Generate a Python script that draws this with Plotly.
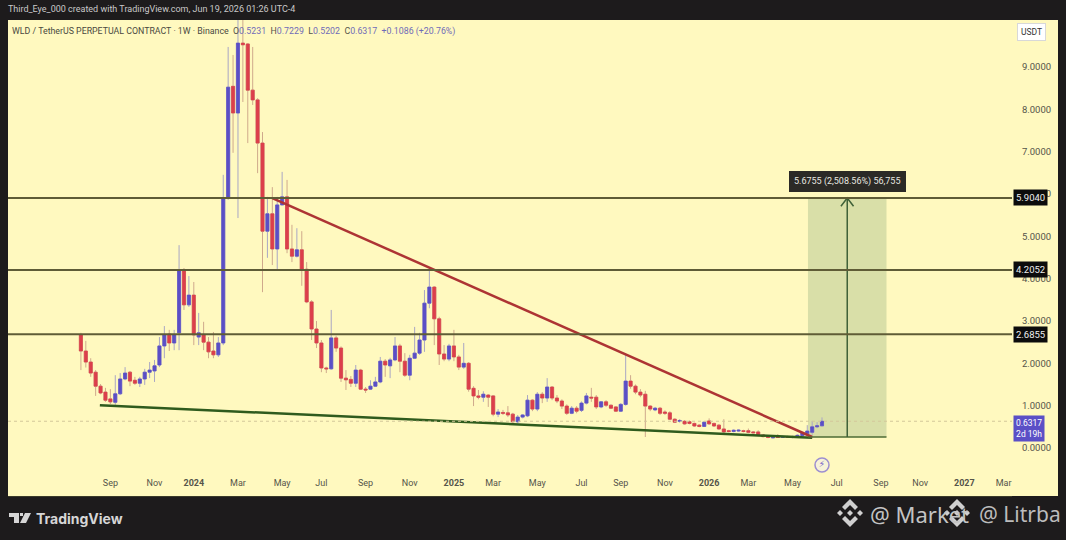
import pandas as pd
import plotly.graph_objects as go

# ============================ data ============================
first_week = "2023-07-24"

opens = [2.67, 2.29, 2.03, 1.79, 1.46, 1.32, 1.16, 1.08, 1.28, 1.63,
         1.79, 1.60, 1.53, 1.63, 1.79, 1.82, 1.96, 2.41, 2.69, 2.48,
         2.72, 4.20, 3.38, 3.61, 2.62, 2.67, 2.50, 2.29, 2.20, 2.48,
         5.90, 8.54, 7.91, 9.56, 9.54, 8.45, 8.22, 7.20, 5.12, 5.53,
         4.70, 5.74, 5.93, 4.70, 4.53, 4.68, 4.22, 3.45, 2.81, 2.48,
         1.89, 1.87, 2.60, 2.36, 1.65, 1.62, 1.53, 1.84, 1.39, 1.39,
         1.46, 1.56, 2.05, 1.94, 2.08, 2.41, 2.05, 1.72, 2.12, 2.24,
         2.55, 3.42, 3.80, 3.05, 2.22, 2.10, 2.41, 2.15, 1.91, 2.00,
         1.41, 1.23, 1.20, 1.25, 1.23, 0.80, 0.84, 0.83, 0.80, 0.62,
         0.73, 0.76, 1.13, 0.92, 1.27, 1.18, 1.44, 1.18, 1.11, 0.99,
         0.82, 0.94, 0.89, 1.06, 1.20, 1.20, 0.97, 1.09, 1.01, 0.97,
         0.87, 1.03, 1.58, 1.46, 1.32, 1.27, 0.99, 0.90, 0.94, 0.85,
         0.83, 0.68, 0.63, 0.63, 0.62, 0.58, 0.54, 0.51, 0.64, 0.58,
         0.54, 0.45, 0.41, 0.39, 0.40, 0.41, 0.41, 0.38, 0.38, 0.31,
         0.28, 0.24, 0.27, 0.25, 0.27, 0.25, 0.26, 0.29, 0.34, 0.37,
         0.50, 0.5231]
highs = [2.72, 2.53, 2.12, 1.84, 1.51, 1.42, 1.39, 1.72, 1.77, 1.91,
         1.82, 1.68, 1.68, 1.87, 2.03, 2.08, 2.62, 2.88, 2.79, 2.79,
         4.79, 4.25, 4.06, 3.92, 3.19, 2.98, 2.62, 2.74, 2.62, 6.45,
         9.47, 9.28, 10.30, 10.30, 9.56, 9.47, 8.26, 7.46, 5.93, 6.16,
         5.93, 6.52, 6.33, 5.27, 5.19, 5.12, 4.39, 3.49, 3.00, 2.55,
         1.92, 3.26, 2.65, 2.40, 1.84, 1.70, 1.96, 1.87, 1.44, 1.60,
         1.68, 2.15, 2.10, 2.13, 2.62, 2.46, 2.24, 2.20, 2.86, 2.72,
         3.73, 4.20, 3.82, 3.10, 2.43, 2.46, 2.79, 2.20, 2.48, 2.03,
         1.46, 1.37, 1.34, 1.27, 1.25, 0.92, 0.90, 0.99, 0.83, 0.78,
         0.80, 1.25, 1.15, 1.32, 1.32, 1.65, 1.46, 1.25, 1.15, 1.03,
         0.99, 0.99, 1.10, 1.30, 1.42, 1.25, 1.11, 1.13, 1.03, 0.99,
         1.06, 2.20, 1.72, 1.50, 1.39, 1.35, 1.01, 0.97, 0.97, 0.89,
         0.87, 0.70, 0.68, 0.66, 0.65, 0.60, 0.56, 0.63, 0.70, 0.60,
         0.56, 0.68, 0.43, 0.44, 0.44, 0.43, 0.46, 0.40, 0.42, 0.33,
         0.30, 0.29, 0.33, 0.29, 0.29, 0.29, 0.32, 0.38, 0.54, 0.64,
         0.61, 0.7229]
lows = [1.84, 1.90, 1.68, 1.23, 1.27, 1.09, 1.04, 1.02, 1.25, 1.60,
        1.46, 1.49, 1.44, 1.49, 1.65, 1.56, 1.91, 2.12, 2.29, 2.31,
        2.31, 3.26, 3.33, 2.43, 2.43, 2.31, 2.12, 2.12, 2.15, 2.43,
        5.86, 6.97, 5.43, 8.17, 7.20, 8.10, 6.49, 3.68, 4.49, 4.32,
        4.20, 5.74, 4.60, 4.39, 4.50, 3.83, 3.42, 2.55, 2.36, 1.79,
        1.77, 1.85, 2.27, 1.56, 1.37, 1.44, 1.44, 1.37, 1.30, 1.37,
        1.44, 1.53, 1.68, 1.65, 2.05, 1.79, 1.68, 1.60, 2.10, 2.20,
        2.27, 3.30, 2.43, 1.96, 2.05, 2.05, 2.05, 1.84, 1.87, 1.33,
        0.99, 1.15, 1.09, 0.97, 0.75, 0.73, 0.78, 0.73, 0.60, 0.58,
        0.70, 0.73, 0.87, 0.87, 1.06, 1.09, 1.13, 1.06, 0.92, 0.78,
        0.80, 0.82, 0.85, 1.03, 1.09, 0.92, 0.94, 0.97, 0.92, 0.85,
        0.85, 1.00, 1.40, 1.27, 1.20, 0.26, 0.87, 0.87, 0.78, 0.78,
        0.66, 0.59, 0.60, 0.55, 0.56, 0.50, 0.49, 0.50, 0.55, 0.50,
        0.43, 0.34, 0.37, 0.37, 0.38, 0.37, 0.35, 0.35, 0.28, 0.25,
        0.23, 0.23, 0.24, 0.24, 0.24, 0.23, 0.24, 0.27, 0.31, 0.31,
        0.47, 0.5202]
closes = [2.29, 2.03, 1.77, 1.46, 1.30, 1.13, 1.09, 1.28, 1.63, 1.77,
          1.58, 1.53, 1.63, 1.79, 1.84, 1.94, 2.41, 2.67, 2.48, 2.67,
          4.20, 3.38, 3.61, 2.67, 2.72, 2.50, 2.27, 2.20, 2.48, 5.90,
          8.52, 7.91, 9.56, 9.52, 8.45, 8.22, 7.20, 5.12, 5.53, 4.70,
          5.74, 5.93, 4.70, 4.53, 4.68, 4.22, 3.45, 2.81, 2.48, 1.89,
          1.87, 2.60, 2.36, 1.65, 1.61, 1.53, 1.84, 1.39, 1.37, 1.46,
          1.56, 2.05, 1.96, 2.08, 2.41, 2.05, 1.72, 2.12, 2.24, 2.55,
          3.42, 3.80, 3.05, 2.22, 2.10, 2.41, 2.15, 1.91, 2.00, 1.39,
          1.23, 1.20, 1.27, 1.20, 0.80, 0.85, 0.82, 0.78, 0.62, 0.73,
          0.78, 1.13, 0.92, 1.27, 1.18, 1.44, 1.18, 1.11, 0.99, 0.82,
          0.94, 0.87, 1.06, 1.23, 1.18, 0.97, 1.09, 1.01, 0.94, 0.87,
          1.03, 1.58, 1.46, 1.32, 1.25, 0.99, 0.92, 0.94, 0.82, 0.82,
          0.68, 0.61, 0.65, 0.57, 0.58, 0.52, 0.51, 0.61, 0.57, 0.52,
          0.45, 0.38, 0.39, 0.42, 0.42, 0.39, 0.37, 0.36, 0.30, 0.27,
          0.25, 0.27, 0.25, 0.27, 0.25, 0.27, 0.30, 0.36, 0.40, 0.50,
          0.5231, 0.6317]

tick_dates = ["2023-09-04", "2023-11-06", "2024-01-01", "2024-03-04", "2024-05-06", "2024-07-01",
              "2024-09-02", "2024-11-04", "2025-01-06", "2025-03-03", "2025-05-05", "2025-07-07",
              "2025-09-01", "2025-11-03", "2026-01-05", "2026-03-02", "2026-05-04", "2026-07-06",
              "2026-09-07", "2026-11-02", "2027-01-04", "2027-03-01"]
tick_labels = ["Sep", "Nov", "<b>2024</b>", "Mar", "May", "Jul", "Sep", "Nov", "<b>2025</b>", "Mar", "May",
               "Jul", "Sep", "Nov", "<b>2026</b>", "Mar", "May", "Jul", "Sep", "Nov", "<b>2027</b>", "Mar"]
price_ticks = [0, 1, 2, 3, 4, 5, 6, 7, 8, 9]

levels = [5.9040, 4.2052, 2.6855]
last_price = 0.6317

red_line_x = ["2024-04-22", "2026-06-01"]
red_line_y = [5.90, 0.26]
green_line_x = ["2023-08-20", "2026-06-01"]
green_line_y = [1.01, 0.24]

target_start = "2026-05-26"
target_mid = "2026-07-21"
target_end = "2026-09-15"
target_low = 0.26
target_high = 5.904
chevron_x = ["2026-07-12", "2026-07-21", "2026-07-30"]
chevron_y = [5.71, 5.904, 5.71]

# ============================ colours ============================
BG = "#1d1b1c"
YELLOW = "#fff9bf"
BLUE = "#5b4fc6"
RED = "#dc3f4b"
BLUE_WICK = "#a9a6c4"
RED_WICK = "#cfa98c"
LEVEL = "#5f5c36"
TEXT = "#55544a"

dates = pd.date_range(first_week, periods=len(opens), freq="7D")
body_top = [max(o, c) for o, c in zip(opens, closes)]
body_low = [min(o, c) for o, c in zip(opens, closes)]

fig = go.Figure()

# wicks first, then the bodies on top so the two can have different colours
fig.add_trace(go.Candlestick(
    x=dates, open=opens, high=highs, low=lows, close=closes,
    increasing=dict(line=dict(color=BLUE_WICK, width=1), fillcolor=BLUE_WICK),
    decreasing=dict(line=dict(color=RED_WICK, width=1), fillcolor=RED_WICK),
    whiskerwidth=0, hoverinfo="skip",
))
fig.add_trace(go.Candlestick(
    x=dates, open=opens, high=body_top, low=body_low, close=closes,
    increasing=dict(line=dict(color=BLUE, width=0.6), fillcolor=BLUE),
    decreasing=dict(line=dict(color=RED, width=0.6), fillcolor=RED),
    whiskerwidth=0, hoverinfo="skip",
))

# trend lines
fig.add_trace(go.Scatter(x=green_line_x, y=green_line_y, mode="lines",
                         line=dict(color="#2f5b1d", width=2.5), hoverinfo="skip"))
fig.add_trace(go.Scatter(x=red_line_x, y=red_line_y, mode="lines",
                         line=dict(color="#ad3434", width=2.5), hoverinfo="skip"))

# long position tool
fig.add_shape(type="rect", x0=target_start, x1=target_end, y0=target_low, y1=target_high,
              fillcolor="#d9dfa8", line_width=0, layer="below")
fig.add_shape(type="line", x0=target_start, x1=target_end, y0=target_low, y1=target_low,
              line=dict(color="#4d6b35", width=1.5))
fig.add_shape(type="line", x0=target_mid, x1=target_mid, y0=target_low, y1=target_high,
              line=dict(color="#3f6138", width=1.5))
fig.add_trace(go.Scatter(x=chevron_x, y=chevron_y, mode="lines",
                         line=dict(color="#3f6138", width=1.5), hoverinfo="skip"))

# horizontal levels + last price
for lvl in levels:
    fig.add_shape(type="line", xref="paper", x0=0, x1=1, y0=lvl, y1=lvl,
                  line=dict(color=LEVEL, width=2))
    fig.add_annotation(xref="paper", x=1.001, y=lvl, xanchor="left", text=f"{lvl:.4f}", showarrow=False,
                       bgcolor="#0c0c0c", font=dict(family="Roboto", size=9.5, color="#eeeeee"),
                       borderpad=2)
fig.add_shape(type="line", xref="paper", x0=0, x1=1, y0=last_price, y1=last_price,
              line=dict(color="#d3c79a", width=1, dash="dot"))

# lightning marker under the last candle
fig.add_trace(go.Scatter(x=[dates[-1]], y=[-0.4], mode="markers+text", text=["⚡"],
                         textposition="middle center", textfont=dict(family="DejaVu Sans", size=9, color="#6a55c8"),
                         marker=dict(size=14, color="#f7f3d8", line=dict(color="#9d8fd0", width=1.5)),
                         hoverinfo="skip"))

# price scale strip is yellow too
fig.add_shape(type="rect", xref="paper", yref="paper", x0=1, x1=1050 / 1004, y0=0, y1=1,
              fillcolor=YELLOW, line_width=0, layer="below")

fig.add_annotation(xref="paper", x=1.001, y=last_price, yanchor="top", yshift=6, xanchor="left", align="center",
                   text="%.4f<br>2d 19h" % last_price, showarrow=False, bgcolor=BLUE,
                   font=dict(family="Roboto", size=8.5, color="#ffffff"), borderpad=2)
fig.add_annotation(xref="paper", yref="paper", x=1.005, y=(496 - 32) / 476, xanchor="left", yanchor="middle",
                   text="USDT", showarrow=False, bgcolor="#ffffff", bordercolor="#d8d8d8", borderwidth=1,
                   borderpad=3, font=dict(family="Roboto", size=8.5, color="#333333"))
fig.add_annotation(x=target_mid, y=6.3, text="5.6755 (2,508.56%) 56,755", showarrow=False, bgcolor="#2b2a26",
                   bordercolor="#2b2a26", borderpad=4, font=dict(family="Roboto", size=9, color="#e8e8e0"))

# header texts
vals = "#6f6bb8"
ohlc = (f'<span style="color:{TEXT}">O</span><span style="color:{vals}">{opens[-1]:.4f}</span>  '
        f'<span style="color:{TEXT}">H</span><span style="color:{vals}">{highs[-1]:.4f}</span>  '
        f'<span style="color:{TEXT}">L</span><span style="color:{vals}">{lows[-1]:.4f}</span>  '
        f'<span style="color:{TEXT}">C</span><span style="color:{vals}">{closes[-1]:.4f}</span>  '
        f'<span style="color:{vals}">+0.1086 (+20.76%)</span>')
fig.add_annotation(xref="paper", yref="paper", x=2 / 1004, y=(496 - 31) / 476, xanchor="left", yanchor="middle",
                   showarrow=False, text=f"WLD / TetherUS PERPETUAL CONTRACT · 1W · Binance  {ohlc}",
                   font=dict(family="Roboto", size=8.8, color="#4a493f"))
fig.add_annotation(xref="paper", yref="paper", x=-2 / 1004, y=(496 - 9) / 476, xanchor="left", yanchor="middle",
                   showarrow=False, text="Third_Eye_000 created with TradingView.com, Jun 19, 2026 01:26 UTC-4",
                   font=dict(family="Roboto", size=9, color="#c9c9c9"))
fig.add_annotation(xref="paper", yref="paper", x=26 / 1004, y=(496 - 518) / 476, xanchor="left", yanchor="middle",
                   showarrow=False, text="<b>TradingView</b>", font=dict(family="Inter", size=14, color="#d6d6d6"))


# ============================ logos in page pixels ============================
def logo_path(points, cx=0, cy=0):
    parts = []
    for i, (px, py) in enumerate(points):
        xp = (cx + px - 8) / 1004
        yp = (496 - cy - py) / 476
        parts.append(("M" if i == 0 else "L") + f"{xp:.5f},{yp:.5f}")
    return " ".join(parts) + " Z"


def add_logo_part(points, color, cx=0, cy=0):
    fig.add_shape(type="path", xref="paper", yref="paper", path=logo_path(points, cx, cy),
                  fillcolor=color, line_width=0)


# TradingView mark
add_logo_part([(9, 513), (19, 513), (19, 523), (14, 523), (14, 517), (9, 517)], "#d6d6d6")
add_logo_part([(20, 513), (23, 513), (23, 516), (20, 516)], "#d6d6d6")
add_logo_part([(25, 513), (31, 513), (26, 523), (20, 523)], "#d6d6d6")

# Binance mark of the two overlapping watermarks
chevron_top = [(0, -14), (8, -6), (5, -3), (0, -8), (-5, -3), (-8, -6)]
chevron_bot = [(0, 14), (8, 6), (5, 3), (0, 8), (-5, 3), (-8, 6)]
small = [(0, -3), (3, 0), (0, 3), (-3, 0)]
for cx in (850, 957):
    add_logo_part(chevron_top, "#d0d0d0", cx, 513)
    add_logo_part(chevron_bot, "#d0d0d0", cx, 513)
    add_logo_part(small, "#d0d0d0", cx, 513)
    add_logo_part(small, "#d0d0d0", cx - 10, 513)
    add_logo_part(small, "#d0d0d0", cx + 10, 513)

fig.add_annotation(xref="paper", yref="paper", x=(868 - 8) / 1004, y=(496 - 514) / 476, xanchor="left", yanchor="middle",
                   showarrow=False, text="@ Market", font=dict(family="Noto Sans", size=22, color="#c4c4c4"))
fig.add_annotation(xref="paper", yref="paper", x=(977 - 8) / 1004, y=(496 - 514) / 476, xanchor="left", yanchor="middle",
                   showarrow=False, text="@ Litrba", font=dict(family="Noto Sans", size=21, color="#bcbcbc"))

fig.update_layout(
    width=1066,
    height=540,
    margin=dict(l=8, r=54, t=20, b=44),
    paper_bgcolor=BG,
    plot_bgcolor=YELLOW,
    showlegend=False,
    boxgap=0.1,
    boxmode="overlay",
    hovermode=False,
    xaxis=dict(
        type="date",
        range=["2023-04-11", "2027-03-13"],
        rangeslider_visible=False,
        showgrid=False,
        zeroline=False,
        tickmode="array",
        tickvals=tick_dates,
        ticktext=tick_labels,
        ticklabelposition="inside",
        ticks="inside",
        ticklen=7,
        tickcolor="rgba(0,0,0,0)",
        tickfont=dict(family="Roboto", size=9, color=TEXT),
        showline=True,
        linecolor="#3a3a2a",
    ),
    yaxis=dict(
        range=[-1.133, 10.106],
        side="right",
        showgrid=False,
        zeroline=False,
        tickmode="array",
        tickvals=price_ticks,
        ticktext=[f"{v:.4f}" for v in price_ticks],
        ticks="outside",
        ticklen=7,
        tickcolor="rgba(0,0,0,0)",
        tickfont=dict(family="Roboto", size=9.5, color=TEXT),
    ),
)

# the browser's default body margin would push the figure 8px off
fig.write_html("out.html", config={"displayModeBar": False},
               post_script="document.body.style.margin='0';document.body.style.background='%s';" % BG)
